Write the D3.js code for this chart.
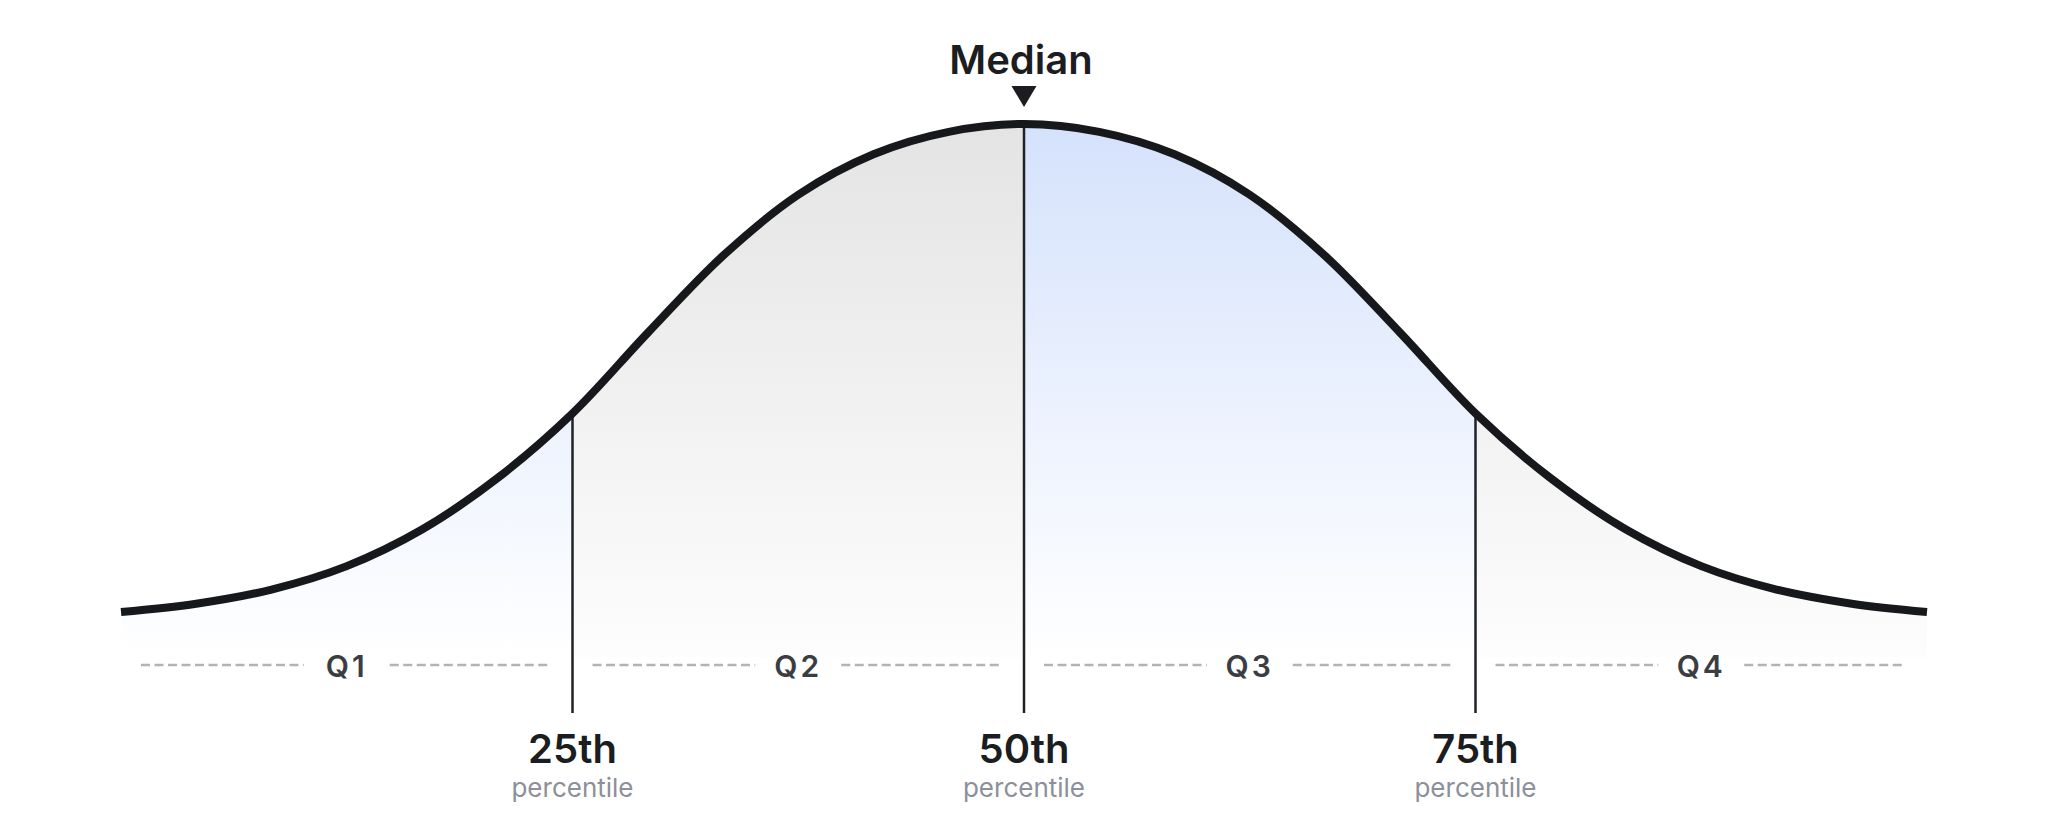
<!DOCTYPE html>
<html>
<head>
<meta charset="utf-8">
<script src="https://d3js.org/d3.v7.min.js"></script>
<style>
  html, body { margin: 0; padding: 0; background: #ffffff; }
  svg { display: block; font-family: Inter, "Noto Sans", sans-serif; }
</style>
</head>
<body>
<script>
    // curve samples (z position, relative height)
    var zValues = [-3, -2.75, -2.5, -2.25, -2, -1.75, -1.5, -1.25, -1, -0.75, -0.5, -0.25, 0,
                   0.25, 0.5, 0.75, 1, 1.25, 1.5, 1.75, 2, 2.25, 2.5, 2.75, 3];
    var density = [0.0, 0.017, 0.046, 0.094, 0.169, 0.274, 0.407, 0.572, 0.730, 0.855, 0.938, 0.984, 1.0,
                   0.984, 0.938, 0.855, 0.730, 0.572, 0.407, 0.274, 0.169, 0.094, 0.046, 0.017, 0.0];

    var quartileBounds = [-3, -1.5, 0, 1.5, 3];
    var quartileLabels = ["Q1", "Q2", "Q3", "Q4"];
    var percentilePos = [-1.5, 0, 1.5];
    var percentileLabels = ["25th", "50th", "75th"];
    var percentileSub = "percentile";
    var medianLabel = "Median";

    var svgWidth = 2048;
    var svgHeight = 840;

    var x = d3.scaleLinear().domain([-3, 3]).range([121, 1927]);
    var y = d3.scaleLinear().domain([0, 1]).range([612, 124]);

    var fillBottom = 657;
    var dashY = 665;
    var tickBottom = 713;

    var points = zValues.map(function(z, i) { return [z, density[i]]; });

    var svg = d3.select("body")
        .append("svg")
        .attr("width", svgWidth)
        .attr("height", svgHeight);

    // gradients
    var defs = svg.append("defs");
    var grads = [
        {id: "gBlue", top: "#d5e2fc", bottom: "#ffffff"},
        {id: "gGray", top: "#e4e4e4", bottom: "#fdfdfd"}
    ];
    grads.forEach(function(g) {
        var lg = defs.append("linearGradient")
            .attr("id", g.id)
            .attr("gradientUnits", "userSpaceOnUse")
            .attr("x1", 0).attr("x2", 0)
            .attr("y1", y(1)).attr("y2", fillBottom);
        lg.append("stop").attr("offset", "0%").attr("stop-color", g.top);
        lg.append("stop").attr("offset", "100%").attr("stop-color", g.bottom);
    });

    var regionFill = ["url(#gBlue)", "url(#gGray)", "url(#gBlue)", "url(#gGray)"];

    quartileLabels.forEach(function(q, i) {
        defs.append("clipPath")
            .attr("id", "clip" + i)
            .append("rect")
            .attr("x", x(quartileBounds[i]))
            .attr("y", 0)
            .attr("width", x(quartileBounds[i + 1]) - x(quartileBounds[i]))
            .attr("height", svgHeight);
    });

    var smooth = d3.curveCatmullRom.alpha(0.5);

    var area = d3.area()
        .x(function(d) { return x(d[0]); })
        .y0(fillBottom)
        .y1(function(d) { return y(d[1]); })
        .curve(smooth);

    var line = d3.line()
        .x(function(d) { return x(d[0]); })
        .y(function(d) { return y(d[1]); })
        .curve(smooth);

    // region fills
    quartileLabels.forEach(function(q, i) {
        svg.append("path")
            .attr("d", area(points))
            .attr("fill", regionFill[i])
            .attr("clip-path", "url(#clip" + i + ")");
    });

    // percentile lines
    svg.selectAll(".pline")
        .data(percentilePos)
        .enter().append("line")
        .attr("class", "pline")
        .attr("x1", function(d) { return x(d); })
        .attr("x2", function(d) { return x(d); })
        .attr("y1", function(d) { return y(density[zValues.indexOf(d)]); })
        .attr("y2", tickBottom)
        .attr("stroke", "#1f2226")
        .attr("stroke-width", 2.5);

    // curve
    svg.append("path")
        .attr("d", line(points))
        .attr("fill", "none")
        .attr("stroke", "#16181b")
        .attr("stroke-width", 8);

    // quartile dashed guides + labels
    quartileLabels.forEach(function(q, i) {
        var x0 = x(quartileBounds[i]);
        var x1 = x(quartileBounds[i + 1]);
        var cx = (x0 + x1) / 2;
        var segs = [[x0 + 20, cx - 43], [cx + 43, x1 - 22]];
        segs.forEach(function(s) {
            svg.append("line")
                .attr("x1", s[0]).attr("x2", s[1])
                .attr("y1", dashY).attr("y2", dashY)
                .attr("stroke", "#b3b3b3")
                .attr("stroke-width", 2.5)
                .attr("stroke-dasharray", "9,4.5");
        });
        svg.append("text")
            .attr("x", cx)
            .attr("y", dashY + 12)
            .attr("text-anchor", "middle")
            .attr("font-size", 30)
            .attr("font-weight", 600)
            .attr("letter-spacing", 3)
            .attr("fill", "#3a3d42")
            .text(q);
    });

    // percentile labels
    svg.selectAll(".plabel")
        .data(percentilePos)
        .enter().append("text")
        .attr("class", "plabel")
        .attr("x", function(d) { return x(d); })
        .attr("y", 763)
        .attr("text-anchor", "middle")
        .attr("font-size", 40)
        .attr("font-weight", 600)
        .attr("fill", "#1b1d20")
        .text(function(d, i) { return percentileLabels[i]; });

    svg.selectAll(".psub")
        .data(percentilePos)
        .enter().append("text")
        .attr("class", "psub")
        .attr("x", function(d) { return x(d); })
        .attr("y", 797)
        .attr("text-anchor", "middle")
        .attr("font-size", 26)
        .attr("fill", "#8c9099")
        .text(percentileSub);

    // median marker
    var mx = x(0);
    svg.append("text")
        .attr("x", mx - 3)
        .attr("y", 74)
        .attr("text-anchor", "middle")
        .attr("font-size", 40)
        .attr("font-weight", 600)
        .attr("fill", "#1b1d20")
        .text(medianLabel);

    svg.append("path")
        .attr("d", "M" + (mx - 12.5) + ",86 L" + (mx + 12.5) + ",86 L" + mx + ",107 Z")
        .attr("fill", "#1b1d20");
</script>
</body>
</html>
